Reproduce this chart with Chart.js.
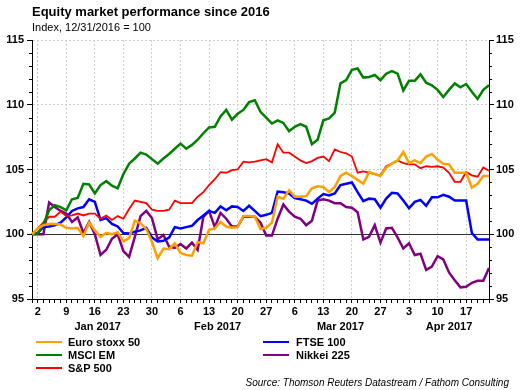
<!DOCTYPE html>
<html><head><meta charset="utf-8">
<script src="https://cdn.jsdelivr.net/npm/chart.js@4.4.0/dist/chart.umd.min.js"></script>
<style>
html,body{margin:0;padding:0;background:#fff;}
#wrap{position:relative;width:520px;height:390px;overflow:hidden;font-family:"Liberation Sans",Arial,sans-serif;color:#000;}
#c{position:absolute;left:0;top:0;}
.t{position:absolute;white-space:nowrap;}
.lg{position:absolute;height:2px;width:26px;}
</style></head><body>
<div id="wrap">
<canvas id="c" width="520" height="390"></canvas>
<div class="t" style="left:32px;top:5px;font-size:13px;line-height:13px;font-weight:bold;">Equity market performance since 2016</div>
<div class="t" style="left:32px;top:22px;font-size:11px;line-height:11px;">Index, 12/31/2016 = 100</div>
<div id="legend"></div>
<div class="t" style="right:11px;top:378px;font-size:10px;line-height:10px;font-style:italic;">Source: Thomson Reuters Datastream / Fathom Consulting</div>
</div>
<script>
// ---- data ----
const dates = [
 '2016-12-30',
 '2017-01-02','2017-01-03','2017-01-04','2017-01-05','2017-01-06','2017-01-09','2017-01-10','2017-01-11','2017-01-12','2017-01-13',
 '2017-01-16','2017-01-17','2017-01-18','2017-01-19','2017-01-20','2017-01-23','2017-01-24','2017-01-25','2017-01-26','2017-01-27',
 '2017-01-30','2017-01-31',
 '2017-02-01','2017-02-02','2017-02-03','2017-02-06','2017-02-07','2017-02-08','2017-02-09','2017-02-10','2017-02-13','2017-02-14',
 '2017-02-15','2017-02-16','2017-02-17','2017-02-20','2017-02-21','2017-02-22','2017-02-23','2017-02-24','2017-02-27','2017-02-28',
 '2017-03-01','2017-03-02','2017-03-03','2017-03-06','2017-03-07','2017-03-08','2017-03-09','2017-03-10','2017-03-13','2017-03-14',
 '2017-03-15','2017-03-16','2017-03-17','2017-03-20','2017-03-21','2017-03-22','2017-03-23','2017-03-24','2017-03-27','2017-03-28',
 '2017-03-29','2017-03-30','2017-03-31',
 '2017-04-03','2017-04-04','2017-04-05','2017-04-06','2017-04-07','2017-04-10','2017-04-11','2017-04-12','2017-04-13','2017-04-14',
 '2017-04-17','2017-04-18','2017-04-19','2017-04-20','2017-04-21'
];
const mondayTicks = ['2017-01-02','2017-01-09','2017-01-16','2017-01-23','2017-01-30','2017-02-06','2017-02-13','2017-02-20','2017-02-27',
 '2017-03-06','2017-03-13','2017-03-20','2017-03-27','2017-04-03','2017-04-10','2017-04-17'];
const months = [['2017-01','Jan 2017'],['2017-02','Feb 2017'],['2017-03','Mar 2017'],['2017-04','Apr 2017']];
const yTickLabels = [95,100,105,110,115];

const euroStoxx50 = [100,100.45,100.7,100.8,100.8,100.75,100.5,100.45,100.5,99.85,
 100.9,100.3,99.8,100.1,100.0,100.15,99.45,99.7,101.05,100.85,
 100.4,99.4,98.15,98.9,98.85,99.3,98.55,98.4,98.35,99.4,
 99.3,100.35,100.45,100.95,100.6,100.5,100.55,101.4,101.4,101.35,
 100.4,100.5,100.9,102.9,102.75,103.4,102.9,102.9,102.95,103.55,
 103.7,103.65,103.25,103.65,104.5,104.75,104.5,104.2,103.9,104.8,
 104.65,104.5,105.15,105.45,105.7,106.35,105.5,105.7,105.5,106.0,
 106.2,105.75,105.45,105.4,104.75,104.75,104.75,103.6,103.9,104.5,104.5];
const msciEM = [100,100.05,100.8,101.85,102.25,102.1,101.85,102.7,102.8,103.9,
 103.85,103.15,103.8,104.1,103.75,103.55,104.65,105.45,105.85,106.3,
 106.15,105.8,105.45,105.85,106.2,106.6,107.0,106.6,106.9,107.3,
 107.8,108.25,108.3,109.1,109.6,108.85,109.3,109.6,110.2,110.35,
 109.45,109.0,108.55,108.8,108.6,107.95,108.3,108.5,108.3,106.95,
 107.3,108.8,108.95,109.4,111.65,111.9,112.7,112.8,112.1,112.15,
 112.3,111.9,112.4,112.6,112.4,111.1,111.85,111.85,112.35,111.7,
 111.5,111.15,110.6,111.15,111.65,111.35,111.6,111.0,110.45,111.15,111.5];
const sp500 = [100,100.45,100.9,101.35,101.35,101.75,101.4,101.45,101.6,101.45,
 101.6,101.6,101.2,101.45,101.1,101.4,101.2,101.95,102.6,102.5,
 102.4,101.9,101.8,101.8,101.9,102.6,102.4,102.4,102.4,102.9,
 103.25,103.8,104.25,104.8,104.75,104.95,105.0,105.6,105.55,105.6,
 105.7,105.8,105.55,106.95,106.3,106.3,106.0,105.7,105.5,105.65,
 105.9,106.0,105.65,106.55,106.35,106.25,106.0,104.75,104.85,104.75,
 104.65,104.55,105.25,105.45,105.7,105.5,105.4,105.4,105.1,105.25,
 105.2,105.25,105.15,104.75,104.05,104.05,104.8,104.55,104.45,105.15,104.9];
const ftse100 = [100,100.1,100.55,100.6,100.7,100.9,101.3,101.8,102.0,102.1,
 102.7,102.5,101.1,101.25,100.8,100.6,100.1,100.05,100.2,100.3,
 100.5,99.75,99.45,99.5,99.75,100.55,100.45,100.55,100.65,101.1,
 101.45,101.8,101.65,102.15,101.85,102.15,102.1,101.8,102.2,101.8,
 101.4,101.5,101.65,103.3,103.25,103.15,102.8,102.7,102.6,102.35,
 102.75,103.1,103.0,103.15,103.8,103.9,104.0,103.25,102.55,102.75,
 102.7,102.05,102.75,103.2,103.15,102.6,102.0,102.5,102.65,102.2,
 102.85,102.85,103.05,102.9,102.6,102.6,102.6,100.1,99.6,99.6,99.6];
const nikkei225 = [100,100,100,102.45,102.1,101.8,101.6,100.95,101.3,100.1,
 100.95,100.0,98.4,98.8,99.65,100.0,98.7,98.25,99.8,101.4,
 101.8,101.25,99.6,99.95,99.05,98.95,99.25,98.9,99.35,98.8,
 101.35,101.8,100.55,101.65,101.2,100.6,100.6,101.35,101.35,101.35,
 100.9,99.9,99.9,101.2,102.3,101.75,101.35,101.2,100.7,101.05,
 102.6,102.7,102.6,102.4,102.4,102.1,102.05,101.7,99.6,99.8,
 100.7,99.35,100.45,100.5,99.75,98.9,99.3,98.4,98.5,97.25,
 97.5,98.3,98.05,97.05,96.45,95.9,95.95,96.25,96.4,96.4,97.4];

const seriesNames = ['Euro stoxx 50','MSCI EM','S&P 500','FTSE 100','Nikkei 225'];
const seriesData = [euroStoxx50, msciEM, sp500, ftse100, nikkei225];
const seriesColors = ['#FFA000','#008000','#FF0000','#0000FF','#800080'];
const seriesWidths = [2.5,2.5,1.8,2.5,2.5];

// ---- legend (HTML) ----
const lg = document.getElementById('legend');
seriesNames.forEach((n,i)=>{
  const col = Math.floor(i/3), row = i%3;
  const lx = col===0 ? 36 : 263, tx = col===0 ? 68 : 296;
  const cy = 342 + row*13;
  const l = document.createElement('div'); l.className='lg';
  l.style.left = lx+'px'; l.style.top = (cy-1)+'px'; l.style.background = seriesColors[i];
  lg.appendChild(l);
  const t = document.createElement('div'); t.className='t';
  t.style.cssText = `left:${tx}px;top:${cy-5}px;font-size:11px;line-height:11px;font-weight:bold;`;
  t.textContent = n; lg.appendChild(t);
});

const FONT = '"Liberation Sans", Arial, sans-serif';
const extras = {
  id:'extras',
  beforeDatasetsDraw(chart){
    const {ctx, chartArea:a, scales:{y}} = chart;
    const py = Math.round(y.getPixelForValue(100))+0.5;
    ctx.save(); ctx.strokeStyle='#333'; ctx.lineWidth=1;
    ctx.beginPath(); ctx.moveTo(a.left,py); ctx.lineTo(a.right,py); ctx.stroke(); ctx.restore();
  },
  afterDraw(chart){
    const {ctx, chartArea:a, scales:{x,y}} = chart;
    ctx.save();
    ctx.strokeStyle='#000'; ctx.lineWidth=1;
    ctx.beginPath();
    for(let v=95; v<=115; v++){
      if (v%5===0) continue;
      const py = Math.round(y.getPixelForValue(v))+0.5;
      ctx.moveTo(a.left-3,py); ctx.lineTo(a.left,py);
      ctx.moveTo(a.right,py); ctx.lineTo(a.right+3,py);
    }
    ctx.stroke();
    ctx.fillStyle='#000'; ctx.font='bold 11px '+FONT; ctx.textAlign='center'; ctx.textBaseline='middle';
    months.forEach(([k,label])=>{
      const idx = dates.map((d,i)=>d.startsWith(k)?i:-1).filter(i=>i>=0);
      const mid = (idx[0]+idx[idx.length-1])/2;
      ctx.fillText(label, x.getPixelForValue(mid), 327);
    });
    ctx.restore();
  }
};

const yCommon = {
  min:95, max:115,
  ticks:{stepSize:5, color:'#000', padding:3, font:{family:FONT,size:11,weight:'bold'},
    callback:v=> yTickLabels.includes(v) ? String(v) : ''},
  border:{color:'#000', width:1, dash:[2,2]},
};

new Chart(document.getElementById('c'), {
  type:'line',
  data:{
    labels: dates,
    datasets: seriesNames.map((n,i)=>({
      label:n, data:seriesData[i], borderColor:seriesColors[i], backgroundColor:seriesColors[i],
      borderWidth:seriesWidths[i], pointRadius:0, tension:0, fill:false
    }))
  },
  plugins:[extras],
  options:{
    responsive:false, animation:false, devicePixelRatio:1,
    layout:{padding:{top:40,left:0,right:0,bottom:0}},
    plugins:{legend:{display:false}, tooltip:{enabled:false}, title:{display:false}},
    scales:{
      x:{
        type:'category', offset:false,
        grid:{color:ctx=> (ctx.tick && mondayTicks.includes(dates[ctx.index])) ? '#cfcfcf' : 'rgba(0,0,0,0)',
              tickColor:'#000', tickLength:4, lineWidth:1},
        border:{color:'#000', width:1, dash:[2,2]},
        ticks:{autoSkip:false, maxRotation:0, minRotation:0, padding:2, color:'#000',
          font:{family:FONT,size:11,weight:'bold'},
          callback:(v,i)=> mondayTicks.includes(dates[i]) ? String(parseInt(dates[i].slice(8),10)) : ''},
        afterFit:s=>{ s.height = 91; }
      },
      y:Object.assign({}, yCommon, {
        position:'left',
        grid:{color:ctx=> (ctx.tick && (ctx.tick.value===105 || ctx.tick.value===110 || ctx.tick.value===115)) ? '#cfcfcf' : 'rgba(0,0,0,0)',
              tickColor:'#000', tickLength:5},
        afterFit:s=>{ s.width = 32; }
      }),
      y2:Object.assign({}, yCommon, {
        position:'right',
        grid:{drawOnChartArea:false, tickColor:'#000', tickLength:5},
        ticks:Object.assign({}, yCommon.ticks, {padding:2}),
        afterFit:s=>{ s.width = 31; }
      })
    }
  }
});
</script>
</body></html>
